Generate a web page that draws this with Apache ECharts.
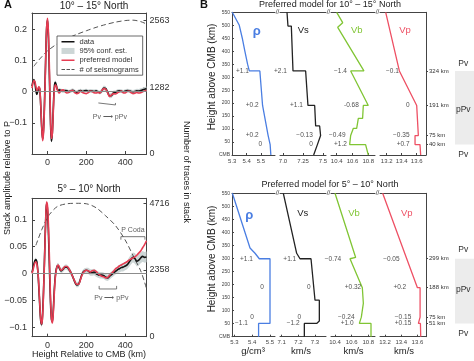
<!DOCTYPE html>
<html><head><meta charset="utf-8">
<script src="https://cdn.jsdelivr.net/npm/echarts@6/dist/echarts.min.js"></script>
<style>html,body{margin:0;padding:0;background:#fff}#c{width:474px;height:361px}</style>
</head><body><div id="c"></div>
<script>
// ---------- Panel A data ----------
const kmA = [-80,-75,-70,-65,-60,-55,-50,-45,-40,-35,-30,-25,-20,-15,-10,-5,0,5,10,15,20,25,30,35,40,45,50,55,60,
  70,80,90,100,110,120,130,140,150,160,170,180,190,200,210,220,230,240,250,260,270,280,290,300,310,320,330,340,350,
  360,370,380,390,400,410,420,430,440,450,460,470,480,490,500,510];
const dataTop = [0.018,0.033,0.038,0.028,0.005,-0.008,0.002,0.014,0.008,-0.045,-0.115,-0.153,-0.115,-0.020,0.095,0.200,0.230,0.165,0.040,-0.090,-0.159,-0.130,-0.050,0.015,0.030,0.022,0.008,0.004,0.006,
  0.004,0.002,0.004,0.003,0.000,0.003,0.005,0.001,-0.002,0.002,0.004,0.001,0.003,0.004,0.001,0.003,0.002,0.001,0.003,0.000,-0.003,0.003,0.012,0.010,-0.002,-0.013,-0.012,-0.004,-0.002,
  0.002,0.003,0.002,0.000,0.002,0.004,0.003,0.001,0.000,0.001,0.003,0.002,0.004,0.006,0.008,0.010];
const modelTop = [0.012,0.028,0.036,0.032,0.018,0.005,0.008,0.016,0.010,-0.040,-0.110,-0.157,-0.125,-0.035,0.085,0.200,0.236,0.185,0.065,-0.070,-0.150,-0.132,-0.060,0.005,0.022,0.018,0.008,0.000,-0.004,
  0.004,0.006,0.000,-0.004,-0.002,0.003,0.004,-0.003,-0.006,-0.004,0.002,-0.002,-0.005,-0.006,-0.003,0.002,0.001,-0.003,-0.004,-0.002,-0.004,0.004,0.010,0.008,-0.004,-0.015,-0.010,-0.006,-0.007,
  -0.004,0.000,0.002,-0.003,-0.004,0.001,0.002,-0.003,-0.006,-0.005,-0.002,-0.004,-0.003,0.000,0.002,0.004];
const confTop = [0.006,0.006,0.006,0.006,0.006,0.006,0.006,0.006,0.008,0.008,0.008,0.008,0.008,0.008,0.008,0.008,0.008,0.008,0.008,0.008,0.008,0.008,0.008,0.008,0.008,0.008,0.006,0.006,0.006,
  0.006,0.006,0.006,0.006,0.006,0.006,0.006,0.006,0.006,0.006,0.006,0.006,0.006,0.006,0.006,0.006,0.006,0.006,0.006,0.006,0.006,0.008,0.008,0.008,0.008,0.008,0.008,0.008,0.006,
  0.006,0.006,0.006,0.006,0.006,0.006,0.006,0.006,0.006,0.006,0.007,0.007,0.007,0.007,0.007,0.007];
const dataBot = [0.002,0.010,0.018,0.024,0.026,0.022,0.005,-0.025,-0.060,-0.088,-0.095,-0.072,-0.025,0.035,0.095,0.131,0.118,0.072,0.010,-0.050,-0.084,-0.089,-0.066,-0.030,-0.005,0.008,0.014,0.015,0.011,
  0.005,0.008,0.012,0.012,0.008,0.002,-0.006,-0.015,-0.021,-0.020,-0.010,0.001,0.005,0.006,0.005,0.002,0.002,0.003,0.000,-0.002,-0.003,-0.003,-0.004,-0.007,-0.008,-0.005,-0.002,0.001,0.004,
  0.007,0.009,0.011,0.012,0.014,0.016,0.021,0.026,0.030,0.028,0.023,0.025,0.029,0.032,0.030,0.031];
const modelBot = [0.000,0.006,0.014,0.020,0.022,0.018,0.005,-0.020,-0.055,-0.085,-0.094,-0.078,-0.030,0.030,0.090,0.133,0.125,0.088,0.025,-0.040,-0.082,-0.092,-0.072,-0.036,-0.008,0.006,0.014,0.016,0.013,
  0.006,0.009,0.013,0.013,0.009,0.002,-0.006,-0.014,-0.020,-0.020,-0.011,-0.001,0.004,0.006,0.005,0.003,0.005,0.006,0.004,0.000,-0.003,-0.005,-0.006,-0.008,-0.007,-0.003,0.001,0.004,0.009,
  0.011,0.014,0.016,0.018,0.020,0.022,0.025,0.027,0.029,0.031,0.034,0.038,0.042,0.048,0.054,0.061];
const confBot = [0.004,0.004,0.004,0.004,0.004,0.004,0.004,0.004,0.006,0.006,0.006,0.006,0.006,0.006,0.006,0.006,0.006,0.006,0.006,0.006,0.006,0.006,0.006,0.006,0.006,0.006,0.005,0.005,0.005,
  0.005,0.005,0.005,0.005,0.005,0.005,0.005,0.005,0.005,0.005,0.005,0.005,0.005,0.005,0.006,0.006,0.006,0.006,0.006,0.006,0.006,0.006,0.006,0.006,0.006,0.006,0.006,0.006,0.006,
  0.007,0.007,0.007,0.008,0.008,0.008,0.009,0.009,0.009,0.010,0.010,0.010,0.010,0.010,0.010,0.010];
const seisKmTop = [-70,-60,-40,-20,0,50,100,150,200,250,300,350,400,440,480,510];
const seisTop = [1680,1730,1820,1900,1975,2110,2210,2290,2360,2425,2480,2525,2555,2563,2535,2490];
const seisKmBot = [-60,-50,-30,-10,10,50,100,150,200,250,300,350,400,450,480,500,510];
const seisBot = [3230,3420,3780,4080,4320,4600,4700,4716,4700,4560,4270,3930,3420,2740,2330,1930,1700];
const countTicksTop = [0,1282,2563];
const countTicksBot = [0,2358,4716];
const ampTicksTop = [-0.1,0,0.1,0.2];
const ampTicksBot = [-0.1,-0.05,0,0.05,0.1];
const kmTicks = [0,200,400];

// ---------- Panel B data ----------
const rhoTopH = [550,500,450,400,350,324,324,191,191,75,75,40,0];
const rhoTopV = [5.300,5.349,5.370,5.388,5.407,5.419,5.493,5.512,5.523,5.551,5.560,5.565,5.570];
const vsTopH = [550,497,497,324,324,191,191,112,112,75,75,40,0];
const vsTopV = [7.050,7.062,7.104,7.125,7.283,7.312,7.396,7.408,7.458,7.470,7.460,7.430,7.383];
const vbTopH = [550,510,492,324,324,191,191,141,141,103,103,75,75,40,40,0];
const vbTopV = [10.400,10.476,10.413,10.745,10.577,10.800,10.737,10.728,10.674,10.653,10.611,10.577,10.556,10.564,10.766,10.800];
const vpTopH = [550,324,324,191,75,75,40,40,0];
const vpTopV = [13.187,13.369,13.360,13.600,13.622,13.578,13.578,13.644,13.653];
const rhoBotH = [550,340,320,299,299,51,51,0];
const rhoBotV = [5.289,5.388,5.416,5.440,5.500,5.500,5.436,5.436];
const vsBotH = [550,320,299,299,140,140,60,51,51,0];
const vsBotV = [7.110,7.190,7.210,7.276,7.300,7.326,7.326,7.310,7.236,7.236];
const vbBotH = [550,304,299,299,188,188,128,128,75,75,51,51,0];
const vbBotV = [10.400,10.648,10.648,10.580,10.728,10.752,10.740,10.716,10.716,10.692,10.692,10.832,10.832];
const vpBotH = [550,299,299,188,188,75,75,51,51,0];
const vpBotV = [13.171,13.468,13.460,13.600,13.633,13.633,13.612,13.612,13.637,13.641];
const interfacesTop = [324,191,75,40];
const interfacesBot = [299,188,75,51];
const ticksTop = [['5.3','5.4','5.5'],['7.0','7.25','7.5'],['10.4','10.6','10.8'],['13.2','13.4','13.6']];
const ticksBot = [['5.3','5.4','5.5'],['7.1','7.2','7.3'],['10.4','10.6','10.8'],['13.2','13.4','13.6']];
const notesTop = [
  [[5.419,324,'+1.1'],[5.488,191,'+0.2'],[5.488,75,'+0.2'],[5.512,40,'0']],
  [[7.054,324,'+2.1'],[7.254,191,'+1.1'],[7.379,75,'\u22120.13'],[7.379,40,'0']],
  [[10.535,324,'\u22121.4'],[10.686,191,'-0.68'],[10.518,75,'\u22120.49'],[10.535,40,'+1.2']],
  [[13.369,324,'\u22120.1'],[13.511,191,'0'],[13.511,75,'\u22120.35'],[13.511,40,'+0.7']]];
const notesBot = [
  [[5.4065,299,'+1.1'],[5.468,188,'0'],[5.412,75,'0'],[5.3785,51,'\u22121.1']],
  [[7.19,299,'+1.1'],[7.276,188,'0'],[7.22,75,'0'],[7.21,51,'\u22121.2']],
  [[10.48,299,'\u22120.74'],[10.72,188,'+0.32'],[10.64,75,'\u22120.24'],[10.628,51,'+1.0']],
  [[13.386,299,'\u22120.05'],[13.468,188,'+0.2'],[13.53,75,'\u22120.15'],[13.53,51,'+0.15']]];

// ---------- styling ----------
const F = 'Liberation Sans, Arial, Helvetica, sans-serif';
const AX = '#444';
const RED = '#e63c52';
const BAND = '#cdd6d6';
const colB = ['#4a7ee2','#222222','#80c534','#ee5064'];
const subL = [232,280,331,380], subW = [43,46,44,46];
const rangeTop = [[5.298,5.599],[6.9625,7.5375],[10.328,10.885],[13.111,13.724]];
const rangeBot = [[5.287,5.528],[7.09,7.366],[10.352,10.88],[13.138,13.706]];

const minus = v => String(v).replace('-', '\u2212');
const grids = [
  {left:32, top:13, width:114.5, height:141},
  {left:32, top:198.3, width:114.5, height:138.4}
];
for (let i=0;i<4;i++) grids.push({left:subL[i], top:12.3, width:subW[i], height:142.7});
for (let i=0;i<4;i++) grids.push({left:subL[i], top:193.3, width:subW[i], height:143.4});

const line = {show:true, onZero:false, lineStyle:{color:AX, width:1}};
const xAxes = [], yAxes = [];
function kmAxis(g){ return {type:'value', gridIndex:g, min:-80, max:510, position:'bottom', axisLine:line,
  axisTick:{show:true, inside:true, length:3, customValues:kmTicks, lineStyle:{color:AX}},
  axisLabel:{show:true, customValues:kmTicks, fontSize:9, color:'#333', margin:4, fontFamily:F, formatter:v => String(v)}, splitLine:{show:false}}; }
function topLine(g,min,max){ return {type:'value', gridIndex:g, min, max, position:'top', axisLine:line,
  axisTick:{show:false}, axisLabel:{show:false}, splitLine:{show:false}}; }
xAxes.push(kmAxis(0), topLine(0,-80,510), kmAxis(1), topLine(1,-80,510));
function ampAxis(g,min,max,ticks){ return {type:'value', gridIndex:g, min, max, position:'left', axisLine:line,
  axisTick:{show:true, inside:true, length:3, customValues:ticks, lineStyle:{color:AX}},
  axisLabel:{show:true, customValues:ticks, fontSize:9, color:'#333', margin:5, fontFamily:F, formatter:minus}, splitLine:{show:false}}; }
function cntAxis(g,max,ticks){ return {type:'value', gridIndex:g, min:0, max, position:'right', axisLine:line,
  axisTick:{show:true, inside:true, length:3, customValues:ticks, lineStyle:{color:AX}},
  axisLabel:{show:true, customValues:ticks, fontSize:9, color:'#333', margin:3, fontFamily:F, formatter:v => String(Math.round(v))}, splitLine:{show:false}}; }
yAxes.push(ampAxis(0,-0.2,0.253,ampTicksTop), cntAxis(0,2700,countTicksTop), ampAxis(1,-0.1175,0.14,ampTicksBot), cntAxis(1,4893,countTicksBot));

function bAxes(gBase, ranges, ticks, interfaces){
  const bottoms = [], tops = [];
  for (let i=0;i<4;i++){
    const labs = ticks[i], vals = labs.map(Number);
    bottoms.push({type:'value', gridIndex:gBase+i, min:ranges[i][0], max:ranges[i][1], position:'bottom', axisLine:line,
      axisTick:{show:true, inside:true, length:2, customValues:vals, lineStyle:{color:AX}},
      axisLabel:{show:true, customValues:vals, fontSize:6, color:'#444', margin:3, fontFamily:F,
        formatter:v => { const k = vals.indexOf(v); return k>=0 ? labs[k] : String(v); }}, splitLine:{show:false}});
    tops.push(topLine(gBase+i, ranges[i][0], ranges[i][1]));
  }
  const ys = [];
  ys.push({type:'value', gridIndex:gBase, min:0, max:550, interval:50, position:'left', axisLine:line,
    axisTick:{show:true, inside:true, length:2, lineStyle:{color:AX}},
    axisLabel:{show:true, fontSize:5, color:'#444', margin:2, fontFamily:F, formatter:v => v===0 ? 'CMB' : String(v)}, splitLine:{show:false}});
  ys.push({type:'value', gridIndex:gBase+1, min:0, max:550, show:false});
  ys.push({type:'value', gridIndex:gBase+2, min:0, max:550, show:false});
  ys.push({type:'value', gridIndex:gBase+3, min:0, max:550, position:'right', axisLine:line,
    axisTick:{show:true, inside:false, length:2, customValues:interfaces, lineStyle:{color:AX}},
    axisLabel:{show:true, customValues:interfaces, fontSize:6, color:'#333', margin:3, fontFamily:F, formatter:v => v + ' km'}, splitLine:{show:false}});
  return {bottoms, tops, ys};
}
const bT = bAxes(2, rangeTop, ticksTop, interfacesTop);
const bB = bAxes(6, rangeBot, ticksBot, interfacesBot);
xAxes.push(...bT.bottoms, ...bT.tops, ...bB.bottoms, ...bB.tops); // 4-7,8-11,12-15,16-19
yAxes.push(...bT.ys, ...bB.ys); // 4-7, 8-11

const series = [];
const pairs = (xs, ys) => xs.map((x,i)=>[x, ys[i]]);
function bandSeries(xi, yi, mid, hw){
  return {type:'custom', name:'95% conf. est.', xAxisIndex:xi, yAxisIndex:yi, data:[[kmA[0], mid[0]]], z:1, silent:true,
    itemStyle:{color:BAND},
    renderItem:(params, api) => {
      const up = kmA.map((k,i)=>api.coord([k, mid[i]+hw[i]]));
      const lo = kmA.map((k,i)=>api.coord([k, mid[i]-hw[i]])).reverse();
      return {type:'polygon', shape:{points:up.concat(lo)}, style:{fill:BAND}};
    }};
}
function panelA(xi, yi, yc, data, model, conf, sk, sc){
  series.push(bandSeries(xi, yi, data, conf));
  series.push({type:'line', name:'# of seismograms', xAxisIndex:xi, yAxisIndex:yc, data:pairs(sk, sc), symbol:'none', smooth:0.3, z:2,
    lineStyle:{color:'#555', width:1, type:[5,3]}, itemStyle:{color:'#555'}});
  series.push({type:'line', name:'data', xAxisIndex:xi, yAxisIndex:yi, data:pairs(kmA, data), symbol:'none', smooth:0.35, z:3,
    lineStyle:{color:'#111', width:1.6}, itemStyle:{color:'#111'},
    markLine:{silent:true, symbol:'none', label:{show:false}, lineStyle:{color:'#8c8c8c', width:1, type:'solid'}, data:[{yAxis:0}]}});
  series.push({type:'line', name:'preferred model', xAxisIndex:xi, yAxisIndex:yi, data:pairs(kmA, model), symbol:'none', smooth:0.35, z:4,
    lineStyle:{color:RED, width:1.6}, itemStyle:{color:RED}});
}
panelA(0, 0, 1, dataTop, modelTop, confTop, seisKmTop, seisTop);
panelA(2, 2, 3, dataBot, modelBot, confBot, seisKmBot, seisBot);

// annotations in A (brackets + text), placed in data units
const brackets = [
  {xi:0, yi:0, pts:[[262,-0.036],[262,-0.0424],[350,-0.0424],[350,-0.036]]},
  {xi:2, yi:2, pts:[[266,-0.023],[266,-0.0287],[356,-0.0287],[356,-0.023]]},
  {xi:2, yi:2, pts:[[378,0.063],[378,0.0686],[502,0.0686],[502,0.063]]}
];
brackets.forEach(b => series.push({type:'line', xAxisIndex:b.xi, yAxisIndex:b.yi, data:b.pts, symbol:'none', z:5, silent:true,
  lineStyle:{color:'#555', width:0.8}}));
const textsA = [
  {xi:0, yi:0, p:[321,-0.080], t:'Pv \u27F6 pPv'},
  {xi:2, yi:2, p:[329,-0.0455], t:'Pv \u27F6 pPv'},
  {xi:2, yi:2, p:[440,0.081], t:'P Coda'}
];
textsA.forEach(a => series.push({type:'scatter', xAxisIndex:a.xi, yAxisIndex:a.yi, symbolSize:1, itemStyle:{color:'rgba(0,0,0,0)'}, z:6, silent:true,
  data:[a.p], label:{show:true, position:'inside', formatter:a.t, fontSize:7, color:'#333', fontFamily:F}}));

// panel B profiles
const profTop = [[rhoTopV,rhoTopH],[vsTopV,vsTopH],[vbTopV,vbTopH],[vpTopV,vpTopH]];
const profBot = [[rhoBotV,rhoBotH],[vsBotV,vsBotH],[vbBotV,vbBotH],[vpBotV,vpBotH]];
function panelB(xBase, yBase, prof, notes){
  for (let i=0;i<4;i++){
    series.push({type:'line', xAxisIndex:xBase+i, yAxisIndex:yBase+i, data:pairs(prof[i][0], prof[i][1]), symbol:'none', z:3, silent:true,
      lineStyle:{color:colB[i], width:1.3}});
    series.push({type:'scatter', xAxisIndex:xBase+i, yAxisIndex:yBase+i, symbolSize:1, itemStyle:{color:'rgba(0,0,0,0)'}, z:6, silent:true,
      data:notes[i].map(n => ({value:[n[0], n[1]], label:{formatter:n[2]}})),
      label:{show:true, position:'left', distance:0, fontSize:6.5, color:'#222', fontFamily:F}});
  }
}
panelB(4, 4, profTop, notesTop);
panelB(12, 8, profBot, notesBot);

// legend icons: thin line / dashed line inside a 13x6 box
const iconLine = 'path://M0,0h0.01v0.01h-0.01z M0,2.3h13v1.5h-13z M12.99,5.99h0.01v0.01h-0.01z';
const iconDash = 'path://M0,0h0.01v0.01h-0.01z M0,2.5h3.5v1h-3.5z M5,2.5h3.5v1h-3.5z M10,2.5h3v1h-3z M12.99,5.99h0.01v0.01h-0.01z';
const option = {
  animation:false,
  backgroundColor:'#fff',
  textStyle:{fontFamily:F},
  grid:grids, xAxis:xAxes, yAxis:yAxes, series,
  legend:{left:57, top:36, orient:'vertical', itemWidth:13, itemHeight:6, itemGap:1, selectedMode:false,
    padding:[1.5,4,1.5,4.5], borderColor:'#444', borderWidth:0.8, backgroundColor:'#fff',
    textStyle:{fontSize:7.5, color:'#333', fontFamily:F, lineHeight:8.3},
    data:[{name:'data', icon:iconLine, itemStyle:{color:'#111'}},
      {name:'95% conf. est.', icon:'rect', itemStyle:{color:BAND}},
      {name:'preferred model', icon:iconLine, itemStyle:{color:RED}},
      {name:'# of seismograms', icon:iconDash, itemStyle:{color:'#555'}}]}
};
const chart = echarts.init(document.getElementById('c'), null, {renderer:'canvas'});
chart.setOption(option);

// ---------- graphic decorations (text and band) ----------
const py = (ai, h) => chart.convertToPixel({yAxisIndex:ai}, h);
function txt(x, y, text, size, o){
  o = o || {};
  return {type:'text', x, y, rotation:o.rot||0, z:20, silent:true,
    style:{text, fontSize:size, fontFamily:o.family||F, fontWeight:o.bold?'bold':'normal', fill:o.color||'#222',
      align:o.align||'center', verticalAlign:'middle', textAlign:o.align||'center', textVerticalAlign:'middle'}};
}
const g = [];
const t1 = py(7, interfacesTop[0]), t2 = py(7, interfacesTop[3]);
const b1 = py(11, interfacesBot[0]), b2 = py(11, interfacesBot[3]);
g.push({type:'rect', z:0, silent:true, shape:{x:455, y:t1, width:19, height:t2-t1}, style:{fill:'#ececec'}});
g.push({type:'rect', z:0, silent:true, shape:{x:455, y:b1, width:19, height:b2-b1}, style:{fill:'#ececec'}});
g.push(txt(8, 5, 'A', 11, {bold:true, color:'#111'}));
g.push(txt(204, 5, 'B', 11, {bold:true, color:'#111'}));
g.push(txt(94, 6, '10\u00B0 \u2013 15\u00B0 North', 10));
g.push(txt(89, 189, '5\u00B0 \u2013 10\u00B0 North', 10));
g.push(txt(89, 355, 'Height Relative to CMB (km)', 9));
g.push(txt(8, 178, 'Stack amplitude relative to P', 9, {rot:Math.PI/2}));
g.push(txt(186, 172, 'Number of traces in stack', 9, {rot:-Math.PI/2}));
g.push(txt(330, 5, 'Preferred model for 10\u00B0 \u2013 15\u00B0 North', 9));
g.push(txt(330, 185, 'Preferred model for 5\u00B0 \u2013 10\u00B0 North', 9));
g.push(txt(212, 77, 'Height above CMB (km)', 10, {rot:Math.PI/2}));
g.push(txt(212, 259, 'Height above CMB (km)', 10, {rot:Math.PI/2}));
const names = ['\u03C1','Vs','Vb','Vp'];
const nameXT = [256.7,303.3,356.7,405], nameXB = [249.3,302.7,354,406.7];
for (let i=0;i<4;i++){
  const sz = i===0 ? 13 : 9.5, bold = i===0;
  g.push(txt(nameXT[i], i===0?31.7:30, names[i], sz, {color:colB[i], bold}));
  g.push(txt(nameXB[i], i===0?215:213.3, names[i], sz, {color:colB[i], bold}));
}
g.push(txt(253, 351.5, 'g/cm\u00B3', 9.5));
g.push(txt(301, 351.5, 'km/s', 9.5));
g.push(txt(353.5, 351.5, 'km/s', 9.5));
g.push(txt(404, 351.5, 'km/s', 9.5));
[[63.3,'Pv'],[110,'pPv'],[155,'Pv'],[250,'Pv'],[290,'pPv'],[333.3,'Pv']].forEach(p => g.push(txt(463.3, p[0], p[1], 8.5, {color:'#333'})));
[277.5,328.5,377.5].forEach(x => { g.push(txt(x, 12.3, '//', 6.5, {color:'#444'})); g.push(txt(x, 193.3, '//', 6.5, {color:'#444'})); });
chart.setOption({graphic:{elements:g}});
</script></body></html>
